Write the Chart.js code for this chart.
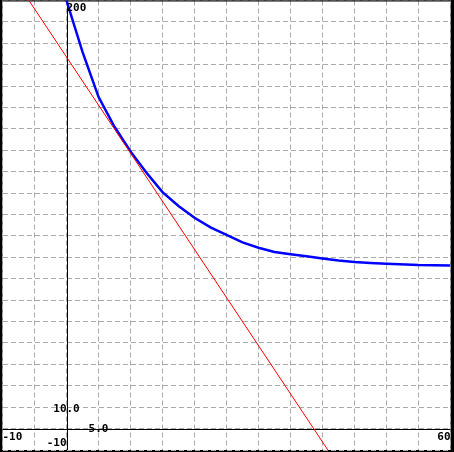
<!DOCTYPE html>
<html>
<head>
<meta charset="utf-8">
<script src="https://cdn.jsdelivr.net/npm/chart.js@4"></script>
<style>
  html, body { margin: 0; padding: 0; background: #fff; }
  #wrap { width: 454px; height: 452px; background: #000; }
</style>
</head>
<body>
<div id="wrap"><canvas id="grafico"></canvas></div>
<script>
// curva azul
const curvaX = [0, 2.5, 5, 7.5, 10, 12.5, 15, 17.5, 20, 22.5, 25, 27.5, 30, 32.5, 35, 37.5, 40, 42.5, 45, 47.5, 50, 55, 60];
const curvaY = [200, 176, 155, 141, 129.5, 119.5, 110.5, 104, 98.5, 94, 90.5, 87, 84.5, 82.5, 81.5, 80.5, 79.5, 78.5, 77.8, 77.4, 77, 76.4, 76.2];

// recta tangente (roja)
const rectaX = [-10, 45];
const rectaY = [218.6, -28.7];

// lineas de la cuadricula
const marcasX = [-10, -5, 0, 5, 10, 15, 20, 25, 30, 35, 40, 45, 50, 55, 60];
const marcasY = [-10, 0, 10, 20, 30, 40, 50, 60, 70, 80, 90, 100, 110, 120, 130, 140, 150, 160, 170, 180, 190, 200];

// etiquetas de los ejes
const etiquetasY = [200, 10, -10];
const textosY = ['200', '10.0', '-10'];
const etiquetasX = [-10, 5, 60];
const textosX = ['-10', '5.0', '60'];

const aPuntos = (xs, ys) => xs.map((x, i) => ({ x: x, y: ys[i] }));

// fondo blanco del area y ejes negros
const ejesPlugin = {
    id: 'ejes',
    beforeDraw(chart) {
        const { ctx, chartArea: a } = chart;
        ctx.save();
        ctx.fillStyle = '#fff';
        ctx.fillRect(a.left, a.top, a.right - a.left, a.bottom - a.top);
        ctx.restore();
    },
    beforeDatasetsDraw(chart) {
        const { ctx, chartArea: a, scales } = chart;
        const x0 = Math.round(scales.x.getPixelForValue(0)) + 0.5;
        const y0 = Math.round(scales.y.getPixelForValue(0)) + 0.5;
        ctx.save();
        ctx.strokeStyle = '#000';
        ctx.lineWidth = 1;
        ctx.beginPath();
        ctx.moveTo(x0, a.top); ctx.lineTo(x0, a.bottom);
        ctx.moveTo(a.left, y0); ctx.lineTo(a.right, y0);
        ctx.moveTo(a.left, a.top + 0.5); ctx.lineTo(a.right, a.top + 0.5);
        ctx.stroke();
        ctx.restore();
    },
    afterDatasetsDraw(chart) {
        const { ctx, scales } = chart;
        const x0 = scales.x.getPixelForValue(0);
        const y0 = scales.y.getPixelForValue(0);
        ctx.save();
        ctx.fillStyle = '#000';
        ctx.font = 'bold 11px "DejaVu Sans Mono", monospace';
        // eje y
        etiquetasY.forEach((v, i) => {
            const py = scales.y.getPixelForValue(v);
            if (i === 0) { ctx.textAlign = 'left'; ctx.textBaseline = 'top'; ctx.fillText(textosY[i], x0, py + 2); }
            else if (i === 1) { ctx.textAlign = 'center'; ctx.textBaseline = 'middle'; ctx.fillText(textosY[i], x0, py + 2); }
            else { ctx.textAlign = 'right'; ctx.textBaseline = 'bottom'; ctx.fillText(textosY[i], x0, py - 1); }
        });
        // eje x
        etiquetasX.forEach((v, i) => {
            const px = scales.x.getPixelForValue(v);
            if (i === 0) { ctx.textAlign = 'left'; ctx.textBaseline = 'top'; ctx.fillText(textosX[i], px, y0 + 3); }
            else if (i === 1) { ctx.textAlign = 'center'; ctx.textBaseline = 'middle'; ctx.fillText(textosX[i], px, y0 + 1); }
            else { ctx.textAlign = 'right'; ctx.textBaseline = 'top'; ctx.fillText(textosX[i], px, y0 + 3); }
        });
        ctx.restore();
    }
};

const grafico = new Chart(document.getElementById('grafico'), {
    type: 'scatter',
    data: {
        datasets: [{
            data: aPuntos(rectaX, rectaY),
            showLine: true,
            borderColor: '#ff0000',
            borderWidth: 1,
            pointRadius: 0,
            tension: 0
        }, {
            data: aPuntos(curvaX, curvaY),
            showLine: true,
            borderColor: '#0000ff',
            borderWidth: 2.5,
            pointRadius: 0,
            tension: 0
        }]
    },
    options: {
        responsive: true,
        maintainAspectRatio: false,
        animation: false,
        layout: { padding: { left: 2.5, right: 3.5, top: 0.5, bottom: 2 } },
        plugins: { legend: { display: false }, tooltip: { enabled: false } },
        scales: {
            x: {
                type: 'linear', min: -10, max: 60,
                afterBuildTicks: s => { s.ticks = marcasX.map(v => ({ value: v })); },
                ticks: { display: false },
                grid: { color: '#aaaaaa', lineWidth: 1, drawTicks: false },
                border: { display: false, dash: [5, 3] }
            },
            y: {
                type: 'linear', min: -10, max: 200,
                afterBuildTicks: s => { s.ticks = marcasY.map(v => ({ value: v })); },
                ticks: { display: false },
                grid: { color: '#aaaaaa', lineWidth: 1, drawTicks: false },
                border: { display: false, dash: [5, 3] }
            }
        }
    },
    plugins: [ejesPlugin]
});
</script>
</body>
</html>
